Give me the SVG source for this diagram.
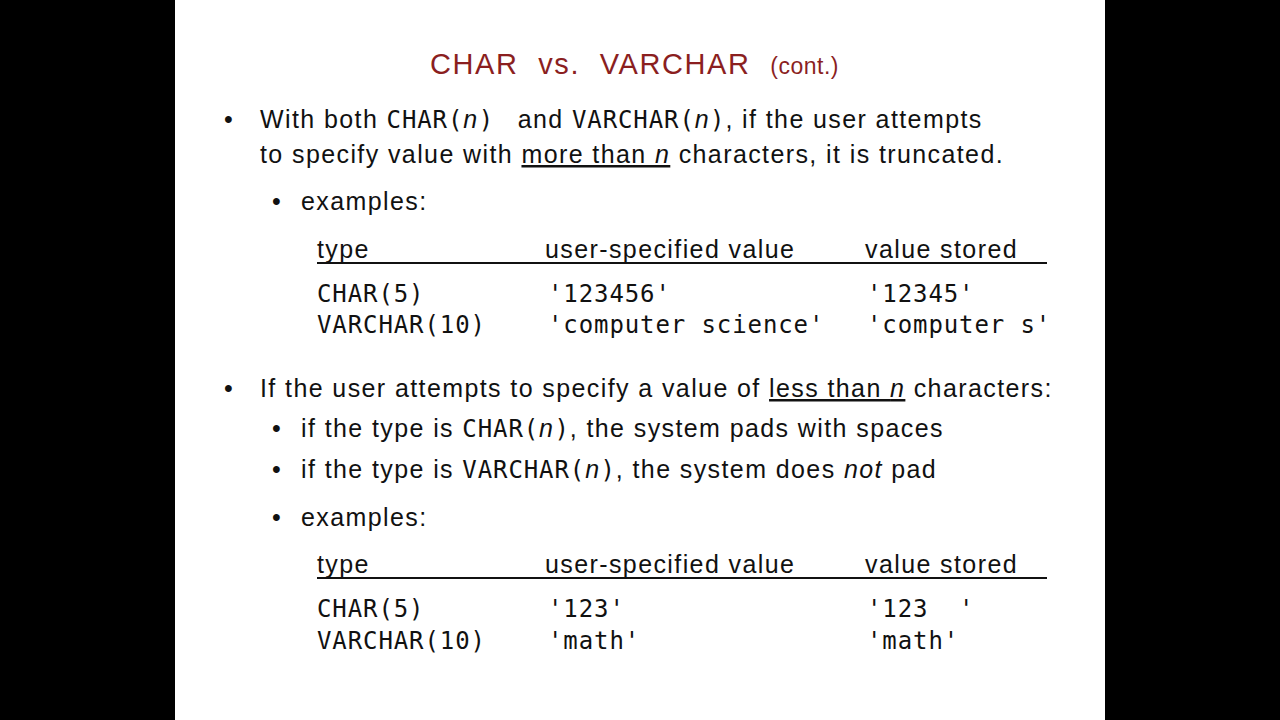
<svg xmlns="http://www.w3.org/2000/svg" width="1280" height="720" viewBox="0 0 1280 720">
<style>
.s{font-family:"Liberation Sans",Arial,sans-serif;font-size:25px;letter-spacing:1.4px;fill:#111}
.m{font-family:"DejaVu Sans Mono",monospace;font-size:24px;letter-spacing:0.9px;fill:#111}
.i{font-style:italic}
.t{font-family:"Liberation Sans",Arial,sans-serif;font-size:29px;letter-spacing:1.6px;word-spacing:10px;fill:#8b1f1f}
</style>
<rect width="1280" height="720" fill="#000"/>
<rect x="175" y="0" width="930" height="720" fill="#fff"/>
<text class="t" x="430" y="74">CHAR vs. VARCHAR <tspan font-size="23" letter-spacing="0.5">(cont.)</tspan></text>
<text class="s" x="224" y="128">•</text>
<text class="s" x="260" y="128" xml:space="preserve">With both <tspan class="m">CHAR(</tspan><tspan class="i">n</tspan><tspan class="m">) </tspan> and <tspan class="m">VARCHAR(</tspan><tspan class="i">n</tspan><tspan class="m">)</tspan>, if the user attempts</text>
<text class="s" x="260" y="163">to specify value with <tspan text-decoration="underline">more than <tspan class="i">n</tspan></tspan> characters, it is truncated.</text>
<text class="s" x="272" y="210">•</text>
<text class="s" x="301" y="210">examples:</text>
<g id="table1">
<text class="s" x="317" y="258">type</text>
<text class="s" x="545" y="258">user-specified value</text>
<text class="s" x="865" y="258">value stored</text>
<line x1="317" y1="263" x2="1047" y2="263" stroke="#111" stroke-width="2"/>
<text class="m" x="317" y="302">CHAR(5)</text>
<text class="m" x="548" y="302">'123456'</text>
<text class="m" x="867" y="302">'12345'</text>
<text class="m" x="317" y="333">VARCHAR(10)</text>
<text class="m" x="548" y="333">'computer science'</text>
<text class="m" x="867" y="333">'computer s'</text>
</g>
<text class="s" x="224" y="397">•</text>
<text class="s" x="260" y="397">If the user attempts to specify a value of <tspan text-decoration="underline">less than <tspan class="i">n</tspan></tspan> characters:</text>
<text class="s" x="272" y="437">•</text>
<text class="s" x="301" y="437">if the type is <tspan class="m">CHAR(</tspan><tspan class="i">n</tspan><tspan class="m">)</tspan>, the system pads with spaces</text>
<text class="s" x="272" y="478">•</text>
<text class="s" x="301" y="478">if the type is <tspan class="m">VARCHAR(</tspan><tspan class="i">n</tspan><tspan class="m">)</tspan>, the system does <tspan class="i">not</tspan> pad</text>
<text class="s" x="272" y="526">•</text>
<text class="s" x="301" y="526">examples:</text>
<g id="table2">
<text class="s" x="317" y="573">type</text>
<text class="s" x="545" y="573">user-specified value</text>
<text class="s" x="865" y="573">value stored</text>
<line x1="317" y1="578" x2="1047" y2="578" stroke="#111" stroke-width="2"/>
<text class="m" x="317" y="617">CHAR(5)</text>
<text class="m" x="548" y="617">'123'</text>
<text class="m" x="867" y="617" xml:space="preserve">'123  '</text>
<text class="m" x="317" y="649">VARCHAR(10)</text>
<text class="m" x="548" y="649">'math'</text>
<text class="m" x="867" y="649">'math'</text>
</g>
</svg>
